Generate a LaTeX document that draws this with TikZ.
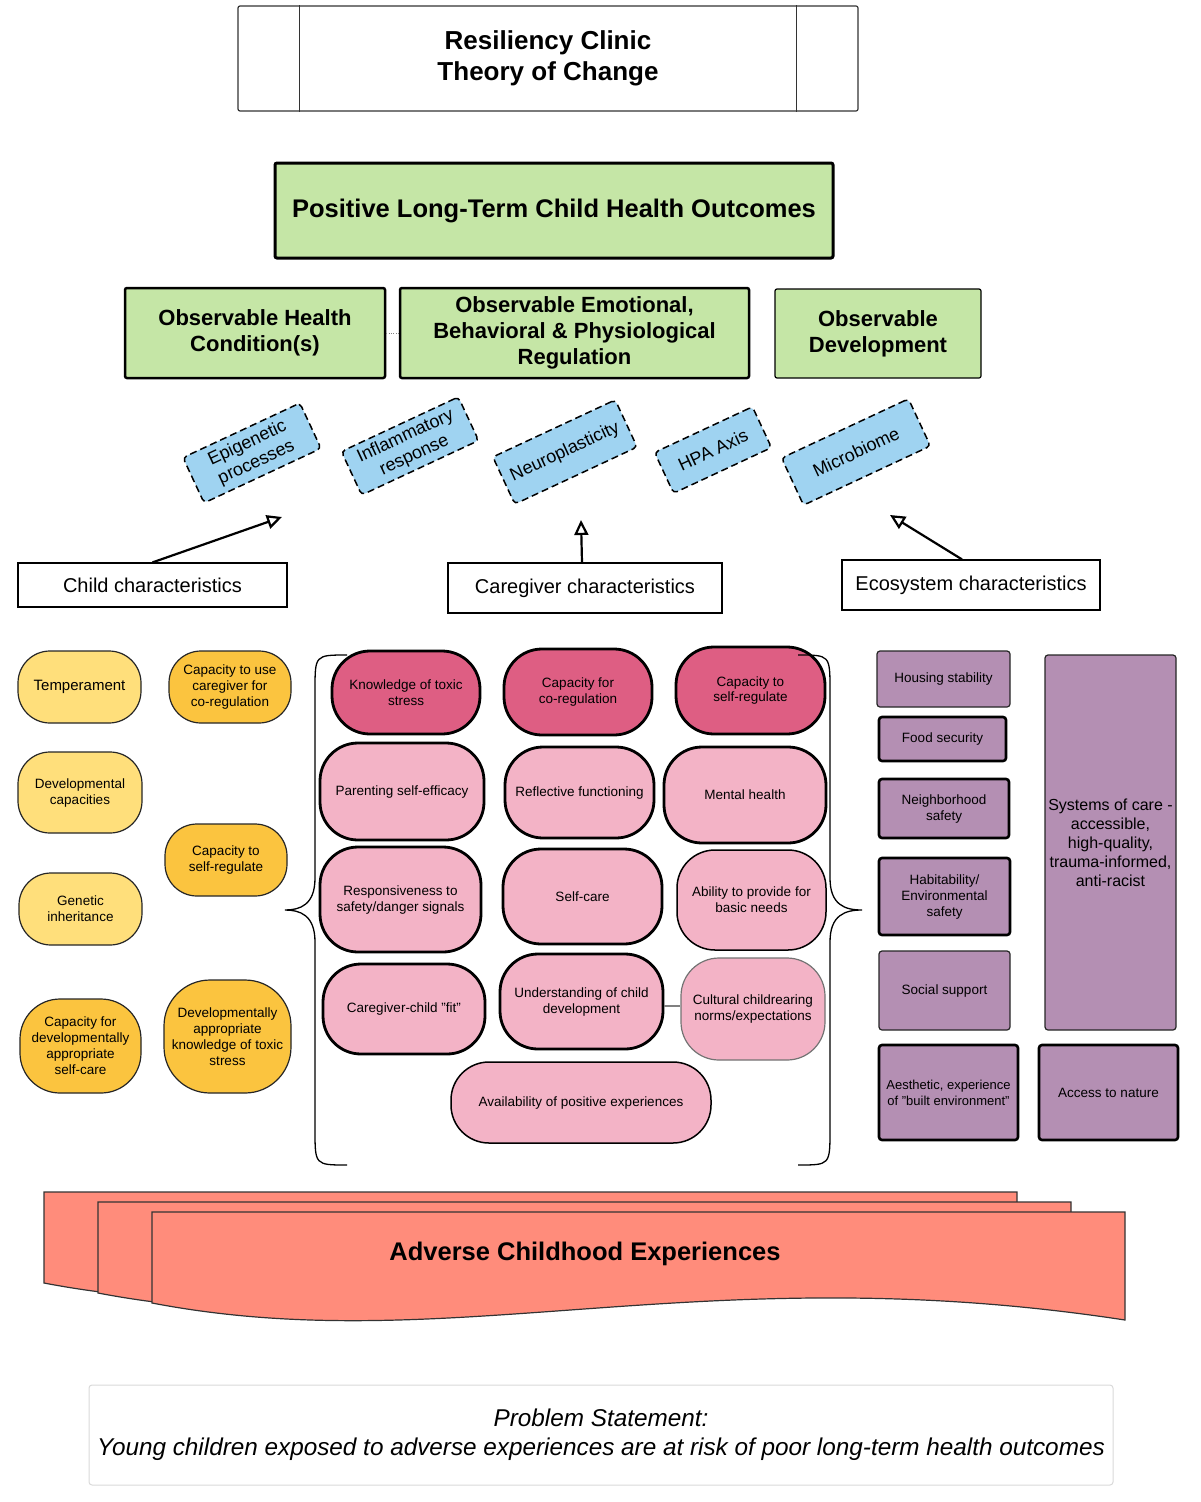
\documentclass[tikz,border=0pt]{standalone}
\usepackage{fontspec}
\setmainfont{Liberation Sans}
\usepackage{xcolor}
\usepackage{tikz}
\usetikzlibrary{arrows.meta}

\definecolor{leaf}{HTML}{C5E6A6}
\definecolor{sky}{HTML}{9FD3F1}
\definecolor{butter}{HTML}{FFDF7B}
\definecolor{marigold}{HTML}{FBC43F}
\definecolor{rose}{HTML}{DE5E83}
\definecolor{blush}{HTML}{F3B3C6}
\definecolor{mauve}{HTML}{B48FB3}
\definecolor{salmon}{HTML}{FF8C7B}

\tikzset{
 outcome/.style={draw=black, fill=leaf, line width=2.5pt, rounded corners=2pt, align=center, inner sep=0pt, font=\bfseries\fontsize{22}{26}\selectfont},
 mech/.style={draw=black, fill=sky, dash pattern=on 7pt off 4pt, line width=1.5pt, rounded corners=4pt, rotate=25, align=center, inner sep=0pt, font=\fontsize{18}{21}\selectfont},
 traits/.style={draw=black, fill=white, line width=1.2pt, align=center, inner sep=0pt, font=\fontsize{20}{24}\selectfont},
 uparrow/.style={-{Triangle[open,length=15pt,width=14pt]}, line width=2.2pt},
 childoval/.style={draw=black!85, line width=1.2pt, rounded corners=32pt, align=center, inner sep=0pt, font=\fontsize{13.5}{16}\selectfont},
 careoval/.style={draw=black, line width=2.8pt, rounded corners=38pt, align=center, inner sep=0pt, font=\fontsize{13.5}{16}\selectfont},
 ecobox/.style={draw=black!85, fill=mauve, line width=1.2pt, rounded corners=3pt, align=center, inner sep=0pt, font=\fontsize{13.5}{16}\selectfont},
 thick box/.style={line width=2.6pt, draw=black},
 acepage/.style={fill=salmon, draw=black!80, line width=1.2pt}
}

\begin{document}
\begin{tikzpicture}[x=1pt, y=-1pt]
\useasboundingbox (0,0) rectangle (1200,1502);

\node[draw=black!80, line width=1.2pt, rounded corners=2pt, minimum width=620pt, minimum height=105pt, align=center, inner sep=0pt, font=\bfseries\fontsize{26}{31}\selectfont] (title) at (548,58.5) {Resiliency Clinic\\Theory of Change};
\draw[black!80, line width=1.2pt] ([xshift=62pt]title.north west) -- ([xshift=62pt]title.south west);
\draw[black!80, line width=1.2pt] ([xshift=-62pt]title.north east) -- ([xshift=-62pt]title.south east);

\node[outcome, line width=3pt, minimum width=558pt, minimum height=95pt, font=\bfseries\fontsize{25.5}{30}\selectfont] (positive) at (554,210.5) {Positive Long-Term Child Health Outcomes};
\node[outcome, minimum width=260pt, minimum height=90pt] (health) at (255,333) {Observable Health\\Condition(s)};
\node[outcome, minimum width=349pt, minimum height=90pt] (emotion) at (574.5,333) {Observable Emotional,\\Behavioral \& Physiological\\Regulation};
\node[outcome, line width=1.2pt, minimum width=206pt, minimum height=89pt] (develop) at (878,333.5) {Observable\\Development};
\draw[gray, dotted] (health.east) -- (emotion.west);

\node[mech, minimum width=129pt, minimum height=50pt] (epigen) at (252,453) {Epigenetic\\processes};
\node[mech, minimum width=129pt, minimum height=48pt] (inflam) at (410,446) {Inflammatory\\response};
\node[mech, minimum width=135pt, minimum height=52pt] (neuro) at (565,452) {Neuroplasticity};
\node[mech, minimum width=108pt, minimum height=45pt] (hpa) at (713,450) {HPA Axis};
\node[mech, minimum width=140pt, minimum height=52pt] (microbe) at (856,452) {Microbiome};

\node[traits, minimum width=269pt, minimum height=44pt] (child) at (152.5,585) {Child characteristics};
\node[traits, minimum width=274pt, minimum height=50pt] (caregiver) at (585,588) {Caregiver characteristics};
\node[traits, minimum width=258pt, minimum height=50pt] (ecosystem) at (971,585) {Ecosystem characteristics};
\coordinate (childtip) at (282,517);
\coordinate (caretip) at (581,520);
\coordinate (ecotip) at (890,515);
\draw[uparrow] (child.north) -- (childtip);
\draw[uparrow] ([xshift=-3pt]caregiver.north) -- (caretip);
\draw[uparrow] ([xshift=-9pt]ecosystem.north) -- (ecotip);

\node[childoval, fill=butter, minimum width=123pt, minimum height=72pt, font=\fontsize{15}{18}\selectfont] (temper) at (79.5,687) {Temperament};
\node[childoval, fill=butter, minimum width=124pt, minimum height=81pt] (devcap) at (80,792.5) {Developmental\\capacities};
\node[childoval, fill=butter, minimum width=123pt, minimum height=72pt] (genetic) at (80.5,909) {Genetic\\inheritance};
\node[childoval, fill=marigold, rounded corners=40pt, minimum width=121pt, minimum height=94pt] (childcare) at (80.5,1046) {Capacity for\\developmentally\\appropriate\\self-care};
\node[childoval, fill=marigold, minimum width=122pt, minimum height=72pt] (childcoreg) at (230,687) {Capacity to use\\caregiver for\\co-regulation};
\node[childoval, fill=marigold, minimum width=122pt, minimum height=72pt] (childselfreg) at (226,860) {Capacity to\\self-regulate};
\node[childoval, fill=marigold, rounded corners=46pt, minimum width=127pt, minimum height=113pt] (childtoxic) at (227.5,1036.5) {Developmentally\\appropriate\\knowledge of toxic\\stress};

\node[careoval, fill=rose, minimum width=148pt, minimum height=83pt] (knowtoxic) at (406,692.5) {Knowledge of toxic\\stress};
\node[careoval, fill=rose, minimum width=148pt, minimum height=86pt] (carecoreg) at (578,692) {Capacity for\\co-regulation};
\node[careoval, fill=rose, minimum width=149pt, minimum height=87pt] (careselfreg) at (750.5,690.5) {Capacity to\\self-regulate};
\node[careoval, fill=blush, minimum width=164pt, minimum height=97pt] (efficacy) at (402,791.5) {Parenting self-efficacy};
\node[careoval, fill=blush, minimum width=149pt, minimum height=91pt] (reflect) at (579.5,792.5) {Reflective functioning};
\node[careoval, fill=blush, minimum width=162pt, minimum height=96pt] (mental) at (745,795) {Mental health};
\node[careoval, fill=blush, minimum width=161pt, minimum height=105pt] (respond) at (400.5,899.5) {Responsiveness to\\safety/danger signals};
\node[careoval, fill=blush, minimum width=159pt, minimum height=95pt] (selfcare) at (582.5,896.5) {Self-care};
\node[careoval, fill=blush, line width=1.5pt, minimum width=149pt, minimum height=100pt] (basicneeds) at (751.5,900) {Ability to provide for\\basic needs};
\node[careoval, fill=blush, minimum width=162pt, minimum height=90pt] (fit) at (404,1009) {Caregiver-child "fit"};
\node[careoval, fill=blush, minimum width=163pt, minimum height=95pt] (understand) at (581.5,1001.5) {Understanding of child\\development};
\node[careoval, fill=blush, draw=black!55, line width=1.2pt, minimum width=144pt, minimum height=102pt] (cultural) at (753,1009) {Cultural childrearing\\norms/expectations};
\node[careoval, fill=blush, line width=1.5pt, minimum width=260pt, minimum height=81pt] (positivexp) at (581,1102.5) {Availability of positive experiences};
\draw[gray, line width=1.2pt] ([yshift=-4.5pt]understand.east) -- ([yshift=3pt]cultural.west);

\draw[line width=1.3pt] (347,655) .. controls (315,655) .. (315,690) -- (315,878) .. controls (315,905) and (300,910) .. (285,910) .. controls (300,910) and (315,915) .. (315,942) -- (315,1130) .. controls (315,1165) .. (347,1165);
\draw[line width=1.3pt] (798,655) .. controls (830,655) .. (830,690) -- (830,878) .. controls (830,905) and (845,910) .. (862,910) .. controls (845,910) and (830,915) .. (830,942) -- (830,1130) .. controls (830,1165) .. (798,1165);

\node[ecobox, minimum width=133pt, minimum height=56pt] (housing) at (943.5,679) {Housing stability};
\node[ecobox, thick box, minimum width=127pt, minimum height=44pt] (food) at (942.5,739) {Food security};
\node[ecobox, thick box, minimum width=130pt, minimum height=59pt] (neighbor) at (944,808.5) {Neighborhood\\safety};
\node[ecobox, thick box, minimum width=131pt, minimum height=77pt] (habitat) at (944.5,896.5) {Habitability/\\Environmental\\safety};
\node[ecobox, minimum width=131pt, minimum height=79pt] (social) at (944.5,990.5) {Social support};
\node[ecobox, minimum width=131pt, minimum height=375pt, font=\fontsize{16}{19}\selectfont] (systems) at (1110.5,842.5) {Systems of care -\\accessible,\\high-quality,\\trauma-informed,\\anti-racist};
\node[ecobox, thick box, minimum width=139pt, minimum height=95pt, font=\fontsize{13}{16}\selectfont] (aesthetic) at (948.5,1092.5) {Aesthetic, experience\\of "built environment"};
\node[ecobox, thick box, minimum width=139pt, minimum height=95pt] (nature) at (1108.5,1092.5) {Access to nature};

\foreach \s in {2,1,0} {
 \draw[acepage, shift={(-54*\s,-10*\s)}] (152,1212) -- (1125,1212) -- (1125,1320) .. controls (700,1255) and (450,1360) .. (152,1303) -- cycle;
}
\node[font=\bfseries\fontsize{25.5}{30}\selectfont] (ace) at (585,1254) {Adverse Childhood Experiences};

\node[draw=black!15, line width=1pt, rounded corners=3pt, minimum width=1024pt, minimum height=100pt, align=center, inner sep=0pt, font=\itshape\fontsize{24.3}{29}\selectfont] (problem) at (601,1435) {Problem Statement:\\Young children exposed to adverse experiences are at risk of poor long-term health outcomes};
\end{tikzpicture}
\end{document}
